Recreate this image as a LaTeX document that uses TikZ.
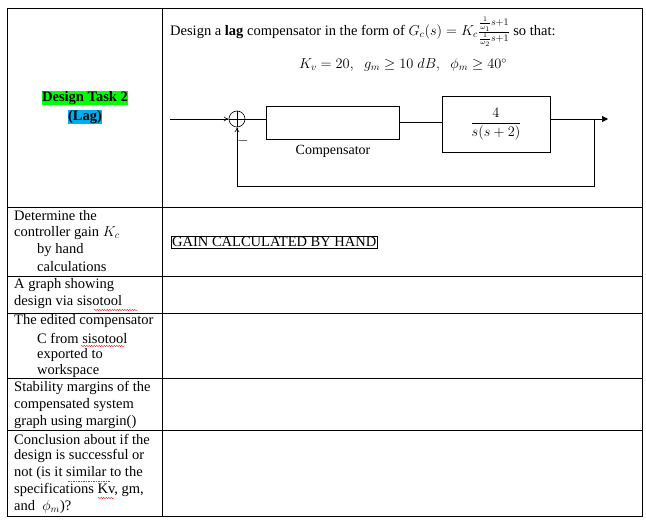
\documentclass[tikz,border=0pt]{standalone}
\usepackage{fontspec}
\setmainfont{Liberation Serif}
\usepackage{amsmath,amssymb}
\usetikzlibrary{arrows.meta,decorations.pathmorphing}
\begin{document}
\begin{tikzpicture}[x=1pt,y=-1pt,
  grid/.style={draw=black,line width=0.6pt},
  cell/.style={anchor=west,inner sep=0pt,font=\fontsize{14.5}{16}\selectfont},
  blk/.style={draw,line width=0.6pt},
  wire/.style={line width=0.6pt},
  squig/.style={red,line width=0.4pt,decorate,decoration={snake,amplitude=0.6pt,segment length=2.5pt}},
  dots/.style={blue!70,line width=0.6pt,dashed,dash pattern=on 1.5pt off 1pt}]
\useasboundingbox (0,0) rectangle (646,521);
\fill[white] (0,0) rectangle (646,521);
% table
\draw[grid] (7,8) rectangle (642,516);
\draw[grid] (162,8) -- (162,516);
\foreach \y in {207,276,313,378,430} \draw[grid] (7,\y) -- (642,\y);
% title
\node[fill={rgb,255:red,0;green,255;blue,0},inner sep=0.5pt,font=\fontsize{14.5}{16}\selectfont\bfseries] (t1) at (85,98) {Design Task 2};
\node[fill=cyan,inner sep=0.5pt,font=\fontsize{14.5}{16}\selectfont\bfseries] (t2) at (85,117) {(Lag)};
% top text
\node[cell] (h1) at (170,32) {Design a \textbf{lag} compensator in the form of $G_c(s)=K_c\frac{\frac{1}{\omega_1}s+1}{\frac{1}{\omega_2}s+1}$ so that:};
\node[font=\fontsize{14.5}{16}\selectfont] (h2) at (403,65) {$K_v=20,\;\; g_m\geq 10\;dB,\;\; \phi_m\geq 40^\circ$};
% block diagram
\coordinate (in) at (170,119);
\node[draw,circle,minimum size=16pt,inner sep=0pt,line width=0.6pt] (sum) at (237,119) {};
\draw[line width=0.5pt] (sum.north) -- (sum.south) (sum.west) -- (sum.east);
\node[blk,minimum width=133pt,minimum height=33pt] (comp) at (332.5,122.5) {};
\node[blk,minimum width=108pt,minimum height=56pt] (plant) at (496,124) {};
\node[font=\fontsize{14}{16}\selectfont] at (plant) {$\dfrac{4}{s(s+2)}$};
\node[font=\fontsize{14}{16}\selectfont] (cl) at (333,151) {Compensator};
\node[font=\fontsize{14}{16}\selectfont] (minus) at (243,141) {$-$};
\coordinate (out) at (608,119);
\coordinate (br) at (594,119);
\coordinate (fb1) at (594,186);
\coordinate (fb2) at (237,186);
\draw[wire,-{To[length=5pt,width=5pt]}] (in) -- (sum.west);
\draw[wire] (sum.east) -- (comp.west |- sum.east);
\draw[wire] (comp.east) -- (plant.west |- comp.east);
\draw[wire,-{Triangle[length=6pt,width=6pt]}] (plant.east |- br) -- (out);
\draw[wire,-{To[length=5pt,width=5pt]}] (br) -- (fb1) -- (fb2) -- (sum.south);
% gain box
\node[cell,draw,inner sep=1pt] (gain) at (171,242) {GAIN CALCULATED BY HAND};
% left cells
\node[cell] at (14,216) {Determine the};
\node[cell] at (14,233) {controller gain $K_c$};
\node[cell] at (37,250) {by hand};
\node[cell] at (37,267) {calculations};
\node[cell] at (14,285) {A graph showing};
\node[cell] (s1) at (14,302) {design via sisotool};
\node[cell] at (14,321) {The edited compensator};
\node[cell] at (37,338) {C from sisotool};
\node[cell] at (37,355) {exported to};
\node[cell] at (37,371) {workspace};
\node[cell] at (14,388) {Stability margins of the};
\node[cell] at (14,405) {compensated system};
\node[cell] at (14,422) {graph using margin()};
\node[cell] at (14,439) {Conclusion about if the};
\node[cell] at (14,456) {design is successful or};
\node[cell] at (14,473) {not (is it similar to the};
\node[cell] at (14,490) {specifications Kv, gm,};
\node[cell] at (14,507) {and \ $\phi_m$)?};
% spell-check marks
\draw[squig] (94,310) -- (138,310);
\draw[squig] (81,346) -- (125,346);
\draw[squig] (98,498) -- (114,498);
\draw[dots] (68,481) -- (110,481);
\end{tikzpicture}
\end{document}
